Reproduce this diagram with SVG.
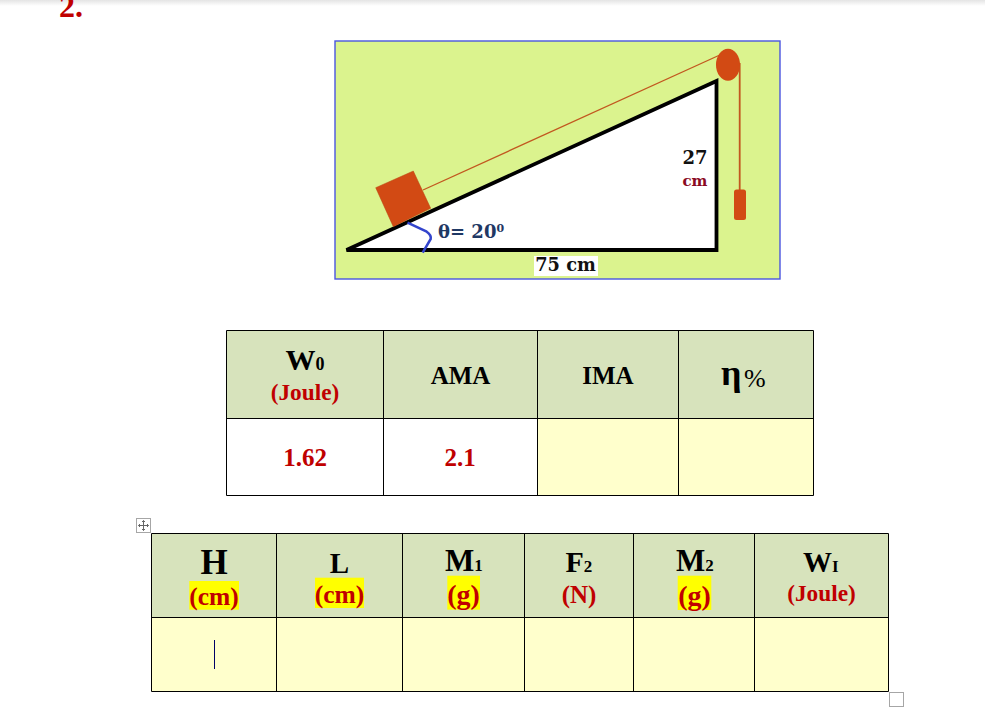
<svg xmlns="http://www.w3.org/2000/svg" width="985" height="727" viewBox="0 0 985 727">
<style>
text{font-family:"Liberation Serif","Times New Roman",serif;font-weight:bold}
.k{fill:#000}
.r{fill:#c00000}
.m{text-anchor:middle}
.s{font-weight:normal}
.c{font-family:"DejaVu Serif",serif;font-weight:bold}
.hd{fill:#d7e3bc}
.an{fill:#ffffcc}
.hl{fill:#ffff00}
.g{stroke:#000;stroke-width:1;fill:none}
.o{fill:#d24a14}
.h{fill:#fff;stroke:#a6a6a6;stroke-width:1}
</style>
<defs><linearGradient id="t" x1="0" y1="0" x2="0" y2="1"><stop offset="0" stop-color="#e4e4e4"/><stop offset="1" stop-color="#fff"/></linearGradient></defs>
<rect width="985" height="727" fill="#fff"/>
<rect width="985" height="6" fill="url(#t)"/>
<text id="number" x="59" y="16.500" font-size="32" class="r">2.</text>

<g id="figure">
<rect x="335" y="41" width="445" height="238" fill="#dbf38e" stroke="#4a55e0" stroke-width="1.400"/>
<path d="M346.500 250L716.500 81V250Z" fill="#fff" stroke="#000" stroke-width="3.800"/>
<path d="M423 190L722 54" stroke="#c2571f" stroke-width="1.300" fill="none"/>
<path d="M739.700 63V190" stroke="#c2571f" stroke-width="1.800" fill="none"/>
<path class="o" d="M375.700 187.700L413.300 171L430.700 208.300L393.300 226.700Z" stroke="#b8410f" stroke-width=".5"/>
<ellipse class="o" cx="728" cy="64.700" rx="12" ry="16"/>
<rect class="o" x="734" y="189.500" width="12" height="30.500" rx="2.500"/>
<path d="M407.500 222.700L426.700 231.700Q431.500 235 430.700 239L422.700 252.700" fill="none" stroke="#3344cc" stroke-width="2.500"/>
<text class="c" x="438" y="238" font-size="18" fill="#1f3864">θ= 20<tspan font-size="11" dy="-6">0</tspan></text>
<rect x="534" y="256" width="64" height="20" fill="#fff"/>
<text class="c m" x="565.500" y="271" font-size="17.800" fill="#111">75 cm</text>
<text class="c m" x="695" y="163.500" font-size="18" fill="#111">27</text>
<text class="c m" x="695" y="186" font-size="15" fill="#8a0a22">cm</text>
</g>

<g id="table-1">
<rect class="hd" x="227" y="331" width="587" height="88"/>
<rect class="an" x="538" y="419" width="276" height="77"/>
<path class="g" d="M226.500 330.500H813.500V495.500H226.500ZM226.500 418.500H813.500M383.500 330.500V495.500M537.500 330.500V495.500M678.500 330.500V495.500"/>
<g id="t1-w0"><text class="k" x="285.500" y="370" font-size="30">W<tspan font-size="18">0</tspan></text>
<text class="r m" x="305" y="400" font-size="23.300">(Joule)</text></g>
<text id="t1-ama" class="k m" x="460.500" y="384" font-size="25">AMA</text>
<text id="t1-ima" class="k m" x="608" y="384" font-size="25">IMA</text>
<g id="t1-eta"><text class="k" x="721" y="385" font-size="36">η<tspan class="s" font-size="26" x="744" y="387">%</tspan></text></g>
<text id="t1-162" class="r m" x="305" y="466" font-size="25">1.62</text>
<text id="t1-21" class="r m" x="460" y="466" font-size="25">2.1</text>
</g>

<g id="table-2">
<rect class="hd" x="152" y="534" width="737" height="84"/>
<rect class="an" x="152" y="618" width="737" height="74"/>
<rect class="hl" x="189.300" y="581" width="49.700" height="28.700"/>
<rect class="hl" x="315" y="577.700" width="49" height="30.300"/>
<rect class="hl" x="447.300" y="575.700" width="32.700" height="34"/>
<rect class="hl" x="677.700" y="575.700" width="33.600" height="34.300"/>
<path class="g" d="M151.500 533.500H888.500V691.500H151.500ZM151.500 617.500H888.500M276.500 533.500V691.500M402.500 533.500V691.500M524.500 533.500V691.500M633.500 533.500V691.500M754.500 533.500V691.500"/>
<g id="t2-h"><text class="k m" x="214" y="574" font-size="35">H</text><text class="r m" x="214" y="605" font-size="25.500">(cm)</text></g>
<g id="t2-l"><text class="k m" x="339.500" y="572.500" font-size="29">L</text><text class="r m" x="339.500" y="602.500" font-size="25.500">(cm)</text></g>
<g id="t2-m1"><text class="k" x="445" y="570.700" font-size="31">M<tspan font-size="17">1</tspan></text><text class="r m" x="463.500" y="604" font-size="28">(g)</text></g>
<g id="t2-f2"><text class="k" x="565.500" y="571.700" font-size="30">F<tspan font-size="17">2</tspan></text><text class="r m" x="579" y="603.300" font-size="25">(N)</text></g>
<g id="t2-m2"><text class="k" x="676" y="570.700" font-size="31">M<tspan font-size="17">2</tspan></text><text class="r m" x="694.500" y="605" font-size="28">(g)</text></g>
<g id="t2-wi"><text class="k" x="803" y="572.300" font-size="29">W<tspan font-size="17">I</tspan></text><text class="r m" x="821.500" y="600.700" font-size="23.300">(Joule)</text></g>
<path d="M214.500 640V669" stroke="#000066" stroke-width="1" fill="none"/>
</g>

<g id="move-handle">
<rect class="h" x="136.500" y="518.500" width="14" height="14"/>
<path d="M143.500 520.500V530.500M138.500 525.500H148.500M142 522L143.500 520.500L145 522M142 529L143.500 530.500L145 529M140 524L138.500 525.500L140 527M147 524L148.500 525.500L147 527" fill="none" stroke="#666" stroke-width="1"/>
</g>
<rect id="resize-handle" class="h" x="889.500" y="692.500" width="14" height="14"/>
</svg>
